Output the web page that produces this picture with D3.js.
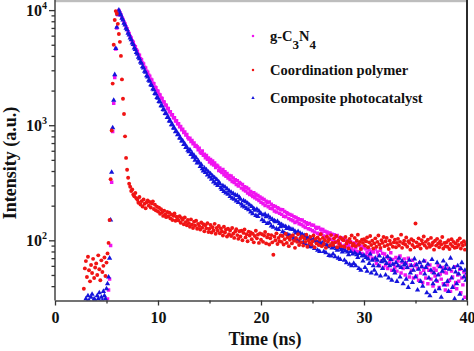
<!DOCTYPE html>
<html>
<head>
<meta charset="utf-8">
<script src="https://cdn.jsdelivr.net/npm/d3@7"></script>
<style>
  body { margin: 0; background: #fff; }
  text { font-family: "Liberation Serif", "Times New Roman", serif; font-weight: bold; fill: #111; }
</style>
</head>
<body>
<script>
// time channels are 0.1 ns apart, each series starts at its own channel
const step = 0.1;

const gcnStart = 5.0;
const gcnValues = [
  28, 31, 37, 46, 90, 320, 880, 1550, 2600, 4600,
  7000, 9100, 9950, 9480, 9120, 8600, 8300, 7850, 7560, 7120,
  6880, 6490, 6270, 5910, 5740, 5400, 5250, 4940, 4800, 4520,
  4390, 4120, 4050, 3780, 3710, 3470, 3400, 3190, 3140, 2950,
  2880, 2720, 2670, 2510, 2470, 2320, 2290, 2150, 2120, 1990,
  1970, 1850, 1830, 1720, 1710, 1600, 1590, 1500, 1490, 1400,
  1395, 1310, 1310, 1230, 1235, 1160, 1160, 1090, 1095, 1030,
  1030, 970, 975, 915, 925, 865, 875, 820, 830, 780,
  760, 772, 720, 735, 690, 701, 655, 668, 650, 612,
  630, 585, 571, 598, 548, 560, 521, 545, 505, 520,
  480, 505, 462, 490, 450, 470, 428, 448, 440, 405,
  425, 398, 389, 412, 372, 395, 360, 381, 348, 366,
  338, 362, 325, 348, 318, 336, 305, 330, 296, 318,
  312, 284, 305, 275, 292, 268, 288, 258, 279, 250,
  266, 248, 240, 259, 234, 251, 228, 245, 222, 238,
  214, 232, 208, 226, 201, 219, 212, 196, 215, 190,
  206, 188, 200, 180, 197, 176, 192, 189, 172, 185,
  168, 184, 162, 178, 160, 174, 170, 155, 168, 151,
  165, 148, 160, 143, 158, 146, 154, 139, 151, 137,
  150, 133, 145, 129, 142, 138, 126, 140, 124, 136,
  121, 135, 118, 130, 127, 115, 129, 113, 125, 116,
  124, 109, 120, 106, 118, 115, 104, 116, 102, 113,
  99, 112, 97, 108, 110, 95, 106, 93, 104, 101,
  104, 90, 100, 88, 98, 92, 86, 97, 85, 94,
  82, 95, 86, 80, 93, 79, 90, 84, 77, 88,
  86, 74, 84, 78, 72, 83, 75, 80, 70, 79,
  68, 84, 63, 79, 74, 60, 82, 66, 77, 58,
  76, 61, 72, 57, 70, 64, 78, 55, 68, 62,
  58, 71, 54, 66, 60, 73, 52, 64, 57, 69,
  50, 64, 58, 70, 48, 61, 55, 67, 47, 60,
  62, 49, 57, 45, 64, 52, 59, 43, 55, 66,
  47, 58, 42, 55, 61, 46, 53, 40, 57, 49,
  55, 44, 60, 39, 51, 46, 58, 42, 53, 37,
  52, 41, 57, 45, 36, 54, 48, 40, 59, 43,
  38, 50, 44, 56, 35, 47, 41, 53, 32, 49,
  46
];

const cpStart = 2.8;
const cpValues = [
  38, 57,
  66, 48, 72, 55, 44, 61, 52, 69, 47, 58,
  63, 50, 74, 56, 45, 67, 53, 60, 71, 49,
  64, 77, 95, 150, 340, 900, 2300, 5000, 8200, 9800,
  9300, 7600, 6200, 5300, 4000, 2500, 1700, 1250, 800, 520,
  410, 350, 310, 292, 268, 276, 250, 241, 258, 232,
  225, 212, 238, 205, 219, 197, 226, 208, 190, 214,
  222, 200, 215, 193, 209, 218, 187, 204, 182, 196,
  178, 192, 170, 186, 175, 163, 181, 168, 159, 176,
  162, 174, 155, 168, 150, 163, 171, 148, 160, 153,
  149, 162, 142, 156, 151, 138, 158, 144, 135, 150,
  141, 131, 152, 137, 128, 145, 134, 148, 126, 139,
  133, 124, 143, 129, 138, 120, 135, 127, 141, 118,
  126, 136, 117, 130, 122, 139, 114, 128, 121, 133,
  115, 127, 120, 110, 131, 117, 124, 108, 126, 113,
  122, 109, 128, 114, 105, 119, 125, 111, 103, 120,
  108, 121, 100, 116, 124, 106, 113, 98, 119, 110,
  117, 102, 114, 96, 109, 121, 104, 112, 95, 115,
  101, 113, 97, 110, 118, 94, 106, 112, 92, 104,
  111, 96, 75, 108, 100, 115, 93, 105, 98, 110,
  97, 109, 92, 102, 114, 95, 106, 89, 101, 108,
  94, 111, 99, 86, 105, 97, 113, 91, 103, 96,
  108, 90, 104, 97, 112, 88, 100, 95, 107, 92,
  98, 110, 87, 103, 94, 106, 91, 101, 113, 89,
  105, 93, 100, 86, 108, 97, 102, 90, 111, 95,
  91, 104, 96, 109, 87, 99, 93, 106, 89, 102,
  100, 88, 107, 94, 98, 85, 103, 96, 110, 90,
  93, 105, 89, 99, 112, 92, 97, 84, 101, 95,
  102, 90, 98, 106, 87, 96, 109, 91, 99, 85,
  94, 104, 88, 97, 110, 92, 86, 100, 95, 107,
  89, 98, 105, 91, 84, 99, 93, 108, 88, 96,
  101, 87, 95, 103, 90, 97, 112, 86, 94, 99,
  92, 106, 88, 98, 95, 83, 102, 91, 99, 87,
  140, 96, 89, 104, 92, 85, 100, 94, 108, 90,
  97, 86, 101, 93, 88, 105, 91, 96, 83, 99,
  90, 103, 94, 87, 98, 92, 107, 85, 95, 89,
  96, 88, 100, 84, 93, 102, 89, 97, 86, 94,
  87, 99, 91, 104, 85, 95, 90, 98, 83, 93,
  91
];

const compStart = 3.0;
const compValues = [
  31, 29, 33, 30, 28, 32, 34, 29, 31, 30,
  28, 33, 31, 35, 29, 32, 30, 36, 33, 31,
  38, 42, 48, 70, 150, 390, 950, 1650, 2750, 4650,
  7100, 9200, 10000, 9420, 9060, 8520, 8190, 7700, 7410, 6960,
  6740, 6310, 6090, 5720, 5530, 5180, 5020, 4700, 4560, 4280,
  4160, 3890, 3780, 3540, 3450, 3220, 3150, 2940, 2880, 2690,
  2630, 2460, 2410, 2250, 2210, 2060, 2030, 1890, 1870, 1740,
  1720, 1610, 1590, 1480, 1470, 1370, 1355, 1265, 1260, 1170,
  1170, 1090, 1085, 1010, 1012, 945, 940, 880, 882, 825,
  830, 776, 770, 728, 731, 680, 688, 640, 645, 605,
  588, 612, 556, 572, 528, 547, 496, 521, 470, 490,
  472, 438, 455, 419, 401, 425, 388, 409, 370, 392,
  355, 378, 340, 362, 322, 349, 310, 338, 300, 322,
  312, 286, 276, 298, 265, 290, 258, 280, 251, 270,
  240, 262, 232, 255, 228, 248, 220, 245, 213, 236,
  228, 207, 199, 222, 195, 216, 189, 210, 184, 203,
  176, 197, 170, 189, 183, 164, 186, 161, 180, 172,
  171, 151, 166, 146, 168, 160, 140, 163, 142, 156,
  133, 152, 130, 148, 145, 126, 146, 124, 140, 131,
  137, 119, 133, 115, 132, 127, 112, 129, 110, 125,
  107, 124, 104, 120, 116, 100, 119, 98, 115, 108,
  113, 96, 110, 93, 108, 104, 90, 106, 88, 102,
  88, 102, 85, 99, 97, 82, 98, 80, 95, 91,
  95, 80, 92, 78, 91, 88, 74, 90, 73, 86,
  76, 88, 72, 85, 82, 70, 86, 68, 83, 79,
  84, 67, 81, 64, 79, 75, 62, 80, 60, 76,
  63, 78, 60, 75, 71, 57, 77, 55, 73, 66,
  74, 58, 71, 54, 69, 63, 76, 52, 67, 60,
  55, 70, 51, 67, 60, 73, 49, 65, 57, 69,
  66, 50, 63, 72, 47, 60, 68, 45, 62, 55,
  52, 64, 44, 60, 70, 48, 58, 66, 42, 61,
  63, 46, 58, 39, 67, 52, 60, 43, 55, 69,
  48, 61, 37, 56, 64, 44, 59, 40, 66, 51,
  58, 35, 62, 47, 33, 55, 68, 42, 52, 36,
  45, 64, 50, 38, 59, 32, 54, 66, 41, 57,
  61, 44, 36, 56, 70, 47, 39, 58, 31, 53,
  42, 60, 51, 34, 57, 64, 30, 48, 55, 45,
  52
];

const xMajor = [0, 10, 20, 30, 40];
const xMinor = [5, 15, 25, 35];
const yMajor = [100, 1000, 10000];
const yMinor = [40, 50, 60, 70, 80, 90, 200, 300, 400, 500, 600, 700, 800, 900,
                2000, 3000, 4000, 5000, 6000, 7000, 8000, 9000];

const width = 474, height = 351;
const plotLeft = 55, plotRight = 467, plotTop = 1, plotBottom = 300.5;

const svg = d3.select("body").append("svg")
    .attr("width", width)
    .attr("height", height);

const x = d3.scaleLinear().domain([0, 40]).range([plotLeft, plotRight]);
const y = d3.scaleLog().domain([30, 12000]).range([plotBottom, plotTop]);

svg.append("clipPath").attr("id", "plot")
  .append("rect")
    .attr("x", plotLeft).attr("y", plotTop)
    .attr("width", plotRight - plotLeft).attr("height", plotBottom - plotTop);

const series = [
  {name: "g-C3N4", start: gcnStart, values: gcnValues, color: "#f014f0", type: d3.symbolSquare, size: 12},
  {name: "Composite photocatalyst", start: compStart, values: compValues, color: "#1414dc", type: d3.symbolTriangle, size: 12},
  {name: "Coordination polymer", start: cpStart, values: cpValues, color: "#f01414", type: d3.symbolCircle, size: 12}
];

const marks = svg.append("g").attr("clip-path", "url(#plot)");

series.forEach(s => {
  const sym = d3.symbol().type(s.type).size(s.size);
  marks.append("g").selectAll("path")
    .data(s.values)
    .join("path")
      .attr("d", sym)
      .attr("fill", s.color)
      .attr("transform", (v, i) => `translate(${x(s.start + i * step)},${y(v)})`);
});

// frame
svg.append("rect").attr("x", plotLeft).attr("y", 0).attr("width", plotRight - plotLeft + 1).attr("height", 2.2).attr("fill", "#bdbdbd");
svg.append("line").attr("x1", plotRight).attr("x2", plotRight).attr("y1", 0).attr("y2", plotBottom)
    .attr("stroke", "#2b2b2b").attr("stroke-width", 2);

// axes
const styleAxis = g => {
  g.select(".domain").attr("stroke", "#444").attr("stroke-width", 1.5);
  g.selectAll(".tick line").attr("stroke", "#333").attr("stroke-width", 1.3);
  g.selectAll("text").style("font-size", "16px");
};

svg.append("g")
    .attr("transform", `translate(0,${plotBottom})`)
    .call(d3.axisBottom(x).tickValues(xMajor).tickSize(5).tickSizeOuter(0).tickPadding(6))
    .call(styleAxis);

svg.append("g")
    .attr("transform", `translate(0,${plotBottom})`)
    .call(d3.axisBottom(x).tickValues(xMinor).tickSize(3).tickSizeOuter(0).tickFormat(""))
    .call(g => g.select(".domain").remove())
    .call(styleAxis);

svg.append("g")
    .attr("transform", `translate(${plotLeft},0)`)
    .call(d3.axisLeft(y).tickValues(yMajor).tickSize(6).tickSizeOuter(0).tickFormat(""))
    .call(styleAxis)
    .call(g => g.select(".domain").attr("d", `M0,0V${plotBottom}`));

svg.append("g")
    .attr("transform", `translate(${plotLeft},0)`)
    .call(d3.axisLeft(y).tickValues(yMinor).tickSize(3.5).tickSizeOuter(0).tickFormat(""))
    .call(g => g.select(".domain").remove())
    .call(styleAxis);

const yLab = svg.append("g").selectAll("text")
  .data(yMajor)
  .join("text")
    .attr("x", plotLeft - 8)
    .attr("y", d => y(d) + 6)
    .attr("text-anchor", "end")
    .style("font-size", "16px");
yLab.append("tspan").text("10");
yLab.append("tspan").attr("dy", -7).style("font-size", "10px").text(d => Math.round(Math.log10(d)));

// axis titles
svg.append("text")
    .attr("transform", "translate(16,163) rotate(-90)")
    .attr("text-anchor", "middle")
    .style("font-size", "18px")
    .text("Intensity (a.u.)");

svg.append("text")
    .attr("x", 265).attr("y", 345)
    .attr("text-anchor", "middle")
    .style("font-size", "18px")
    .text("Time (ns)");

// legend
const legendRows = [
  {s: series[0], y: 41},
  {s: series[2], y: 75},
  {s: series[1], y: 103}
];
const legend = svg.append("g");
legendRows.forEach(r => {
  legend.append("path")
      .attr("d", d3.symbol().type(r.s.type).size(5))
      .attr("fill", r.s.color)
      .attr("transform", `translate(253,${r.y - 5})`);
  const t = legend.append("text")
      .attr("x", 270).attr("y", r.y)
      .style("font-size", "14.5px");
  if (r.s.name === "g-C3N4") {
    t.append("tspan").text("g-C");
    t.append("tspan").attr("dy", 8).style("font-size", "13px").text("3");
    t.append("tspan").attr("dy", -8).text("N");
    t.append("tspan").attr("dy", 8).style("font-size", "13px").text("4");
  } else {
    t.text(r.s.name);
  }
});
</script>
</body>
</html>
